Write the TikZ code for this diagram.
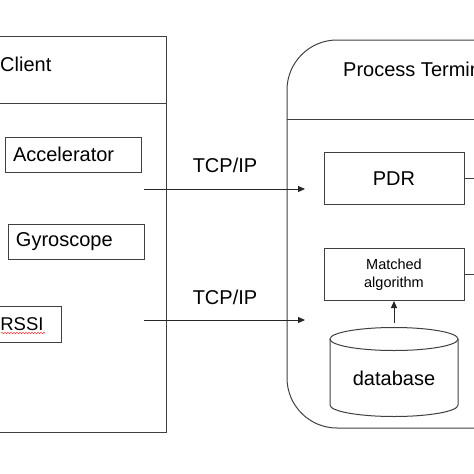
\documentclass[tikz,border=0pt]{standalone}
\usepackage{fontspec}
\setmainfont{Liberation Sans}
\usetikzlibrary{positioning}
\usetikzlibrary{arrows.meta}
\usetikzlibrary{decorations.pathmorphing}
\tikzset{frame/.style={draw=black!75, line width=1pt}}
\tikzset{sensor/.style={frame, minimum height=35pt, inner xsep=8pt, text width=120pt, align=left}}
\tikzset{module/.style={frame, minimum width=140pt, minimum height=52pt, align=center}}
\tikzset{link/.style={draw=black!85, line width=1pt, -{Triangle[length=7pt,width=6pt]}}}
\tikzset{spell/.style={draw=red!80, line width=0.5pt, decorate, decoration={snake, amplitude=0.7pt, segment length=3pt}}}

\begin{document}
\begin{tikzpicture}[x=1pt, y=-1pt, font=\fontsize{20}{24}\selectfont]
\useasboundingbox (0,0) rectangle (474,474);
\node[frame, minimum width=186pt, minimum height=396pt] (client) at (73,234) {};
\coordinate (csep) at (0,103);
\draw[frame] (client.west |- csep) -- (client.east |- csep);
\node[anchor=west, inner sep=0pt] (clienttitle) at (0,64) {Client};
\node[sensor] (acc) at (73,154.5) {Accelerator};
\node[sensor] (gyro) at (76,241.5) {Gyroscope};
\node[frame, minimum height=36pt, inner xsep=18pt, anchor=east, font=\fontsize{18.5}{22}\selectfont] (rssi) at (62,324) {RSSI};
\draw[spell] (1,333) -- (45,333);

\node[frame, rounded corners=50pt, minimum width=253pt, minimum height=388pt] (term) at (413.5,234) {};
\coordinate (tsep) at (0,119);
\draw[frame] (term.west |- tsep) -- (term.east |- tsep);
\node[anchor=west, inner sep=0pt] (termtitle) at (343,69) {Process Terminal};
\node[module] (pdr) at (394,178.5) {PDR};
\node[module, font=\fontsize{14.5}{18}\selectfont] (algo) at (394,274.5) {Matched\\algorithm};
\coordinate (pdrout) at (480,178.5);
\coordinate (algoout) at (480,274.5);
\draw[frame] (pdr) -- (pdrout);
\draw[frame] (algo) -- (algoout);

\node (db) at (394,378) {database};
\draw[frame] (330,339) -- (330,405) arc[start angle=180, end angle=360, x radius=64pt, y radius=11.5pt] -- (458,339);
\draw[frame] (394,339) ellipse [x radius=64pt, y radius=11.5pt];
\coordinate (dbtop) at (394,323);
\draw[link] (dbtop) -- (algo);

\coordinate (out1) at (144,189);
\coordinate (in1) at (305,189);
\coordinate (out2) at (144,320);
\coordinate (in2) at (305,320);
\draw[link] (out1) -- (in1);
\draw[link] (out2) -- (in2);
\node (tcp1) at (225,165) {TCP/IP};
\node (tcp2) at (225,297) {TCP/IP};
\end{tikzpicture}
\end{document}
